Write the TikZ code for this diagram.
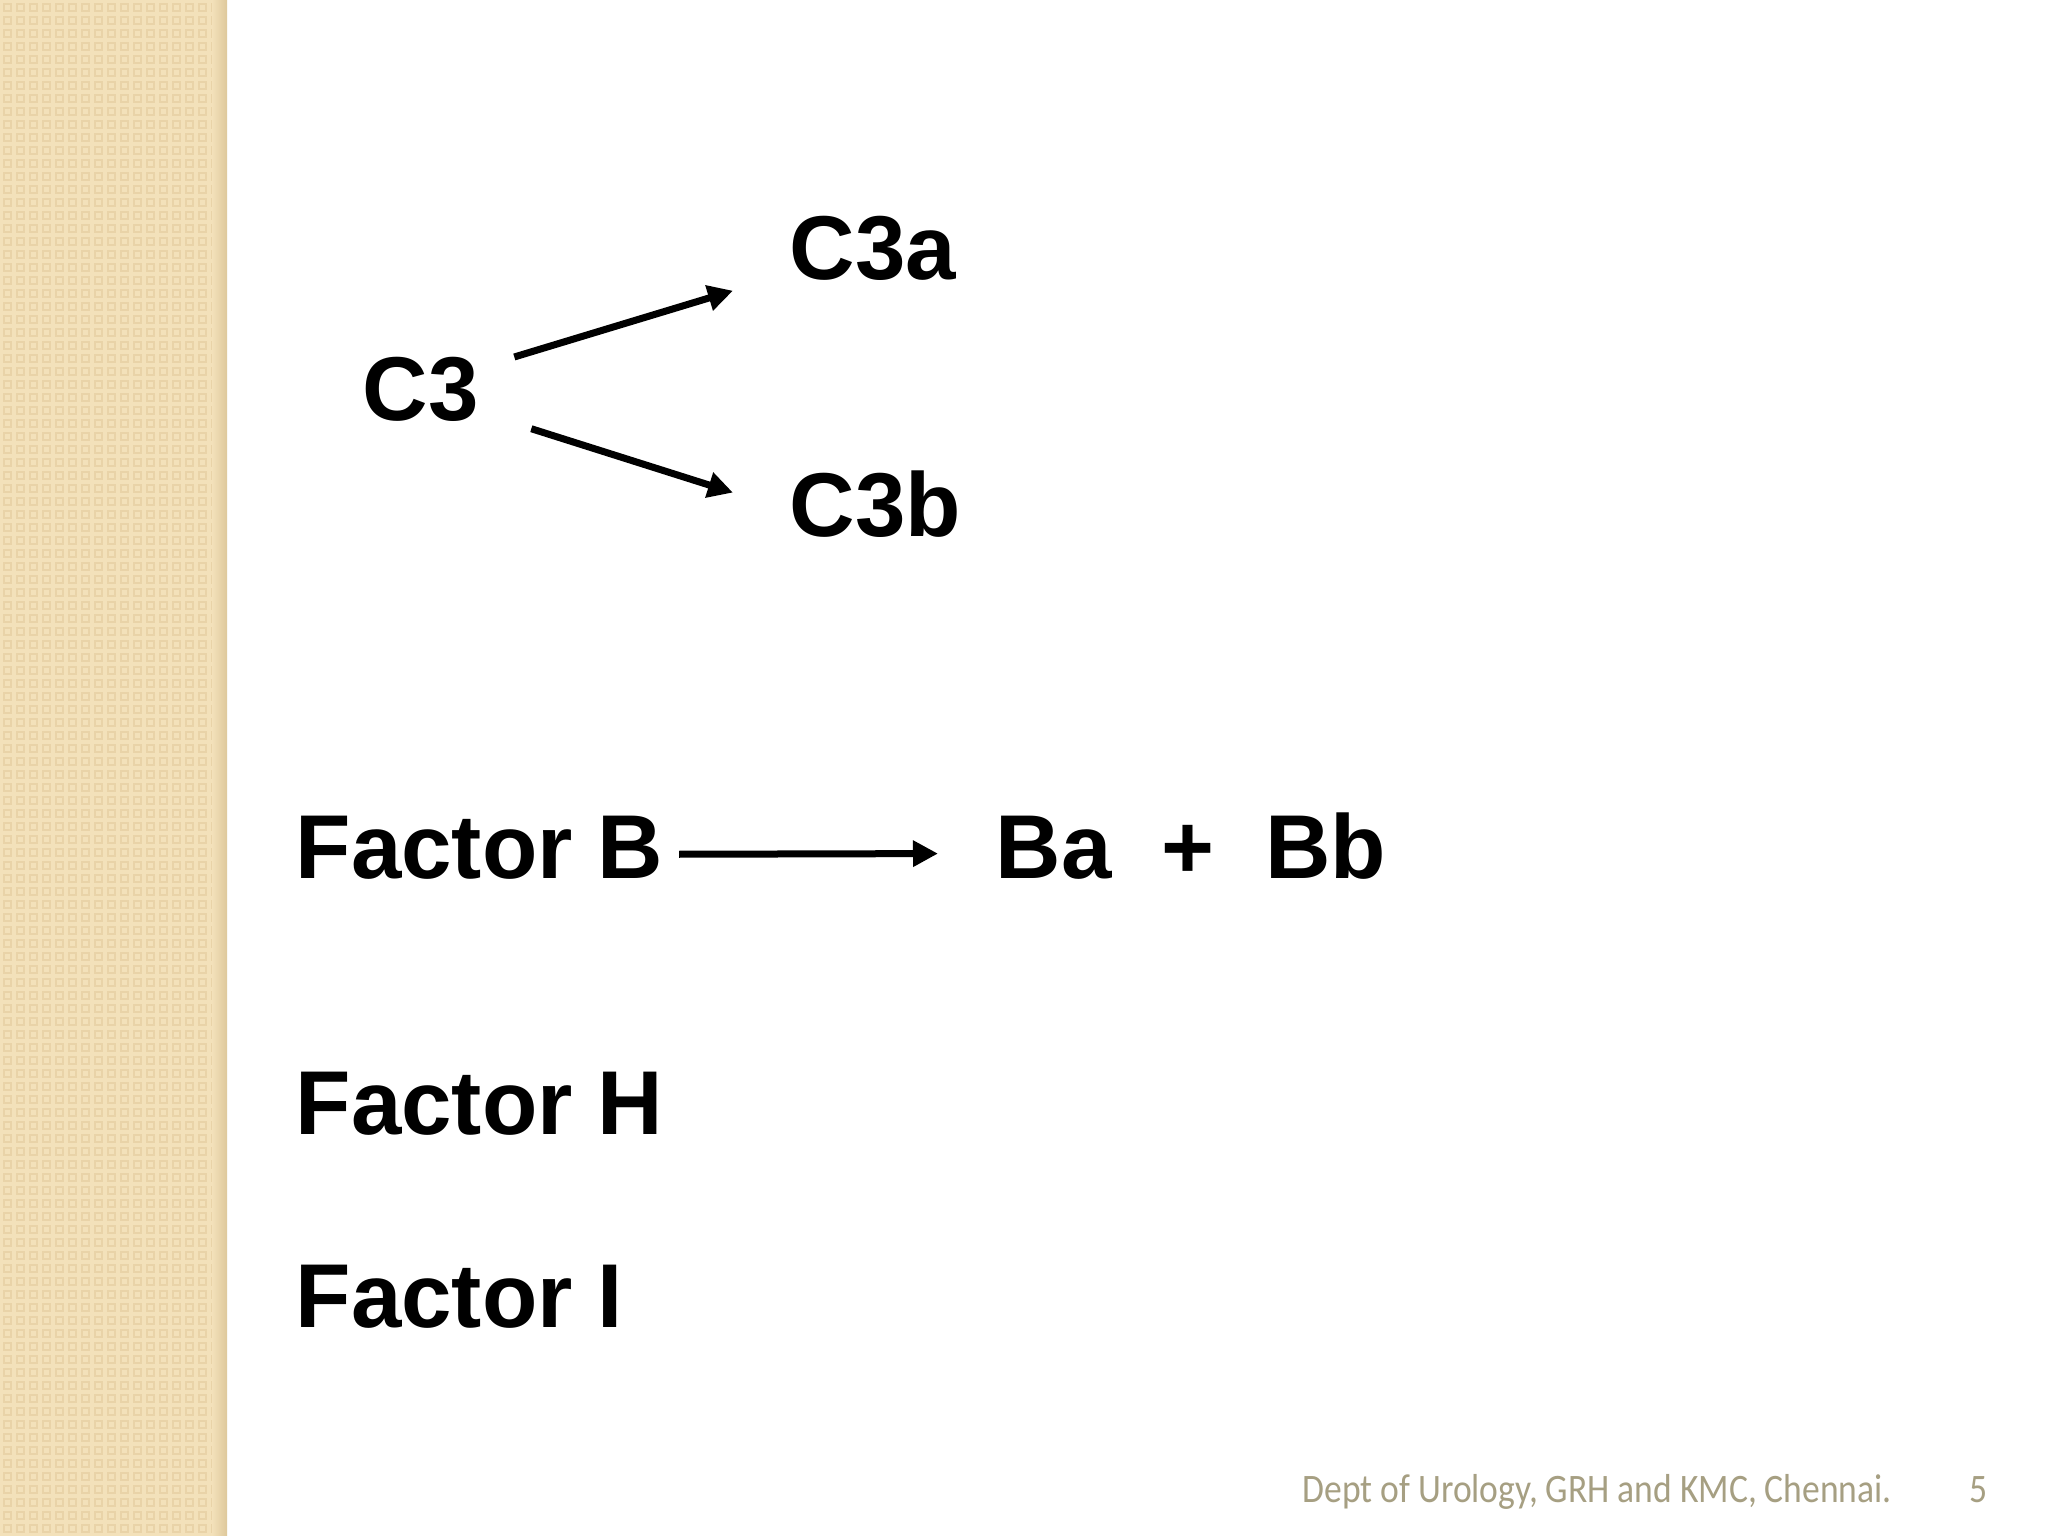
\documentclass[tikz,border=0pt]{standalone}
\usepackage{fontspec}
\setmainfont{Liberation Sans}
\newfontfamily\footfont[FakeStretch=0.88]{Carlito}
\usepackage{tikz}
\usetikzlibrary{arrows.meta,positioning}
\definecolor{slbeige}{RGB}{243,225,186}
\definecolor{slbeigedark}{RGB}{233,211,168}
\definecolor{slshadow}{RGB}{222,200,155}
\definecolor{slfoot}{RGB}{166,159,130}
\tikzstyle{term} = [inner sep=0pt, anchor=base west, font=\fontsize{25.8}{30}\selectfont\bfseries]
\tikzstyle{arrow} = [line width=0.07cm, -{Triangle[length=0.25cm,width=0.25cm]}, color=black]
\tikzstyle{footer} = [inner sep=0pt, anchor=base west, text=slfoot, font=\footfont\fontsize{11.5}{14}\selectfont]

\begin{document}
\begin{tikzpicture}
\useasboundingbox (0,0) rectangle (20.48,-15.36);
\fill[white] (0,0) rectangle (20.48,-15.36);
% textured side band
\fill[slbeige] (0,0) rectangle (2.27,-15.36);
\foreach \i in {0,...,16} {
  \foreach \j in {0,...,117} {
    \draw[slbeigedark, line width=0.015cm] (0.04+0.13*\i,-0.04-0.13*\j) rectangle ++(0.07,-0.07);
  }
}
\shade[left color=slbeige, right color=slshadow] (2.12,0) rectangle (2.27,-15.36);

\node (c3) [term] at (3.62,-4.21) {C3};
\node (c3a) [term] at (7.89,-2.80) {C3a};
\node (c3b) [term] at (7.89,-5.37) {C3b};
\node (fb) [term] at (2.95,-8.78) {Factor B};
\node (ba) [term] at (9.95,-8.79) {Ba\ \ +\ \ Bb};
\node (fh) [term] at (2.95,-11.34) {Factor H};
\node (fi) [term] at (2.95,-13.27) {Factor I};

\draw[arrow] ([xshift=0.35cm]c3.north east) -- ([xshift=-0.56cm,yshift=-0.09cm]c3a.south west);
\draw[arrow] ([xshift=0.52cm,yshift=-0.06cm]c3.south east) -- ([xshift=-0.56cm,yshift=-0.22cm]c3b.north west);
\draw[arrow] ([xshift=0.15cm,yshift=-0.07cm]fb.east) -- ([xshift=-0.57cm,yshift=-0.07cm]ba.west);

\node (dept) [footer] at (13.02,-15.02) {Dept of Urology, GRH and KMC, Chennai.};
\node (pgno) [footer, anchor=base east] at (19.88,-15.02) {5};
\end{tikzpicture}
\end{document}
